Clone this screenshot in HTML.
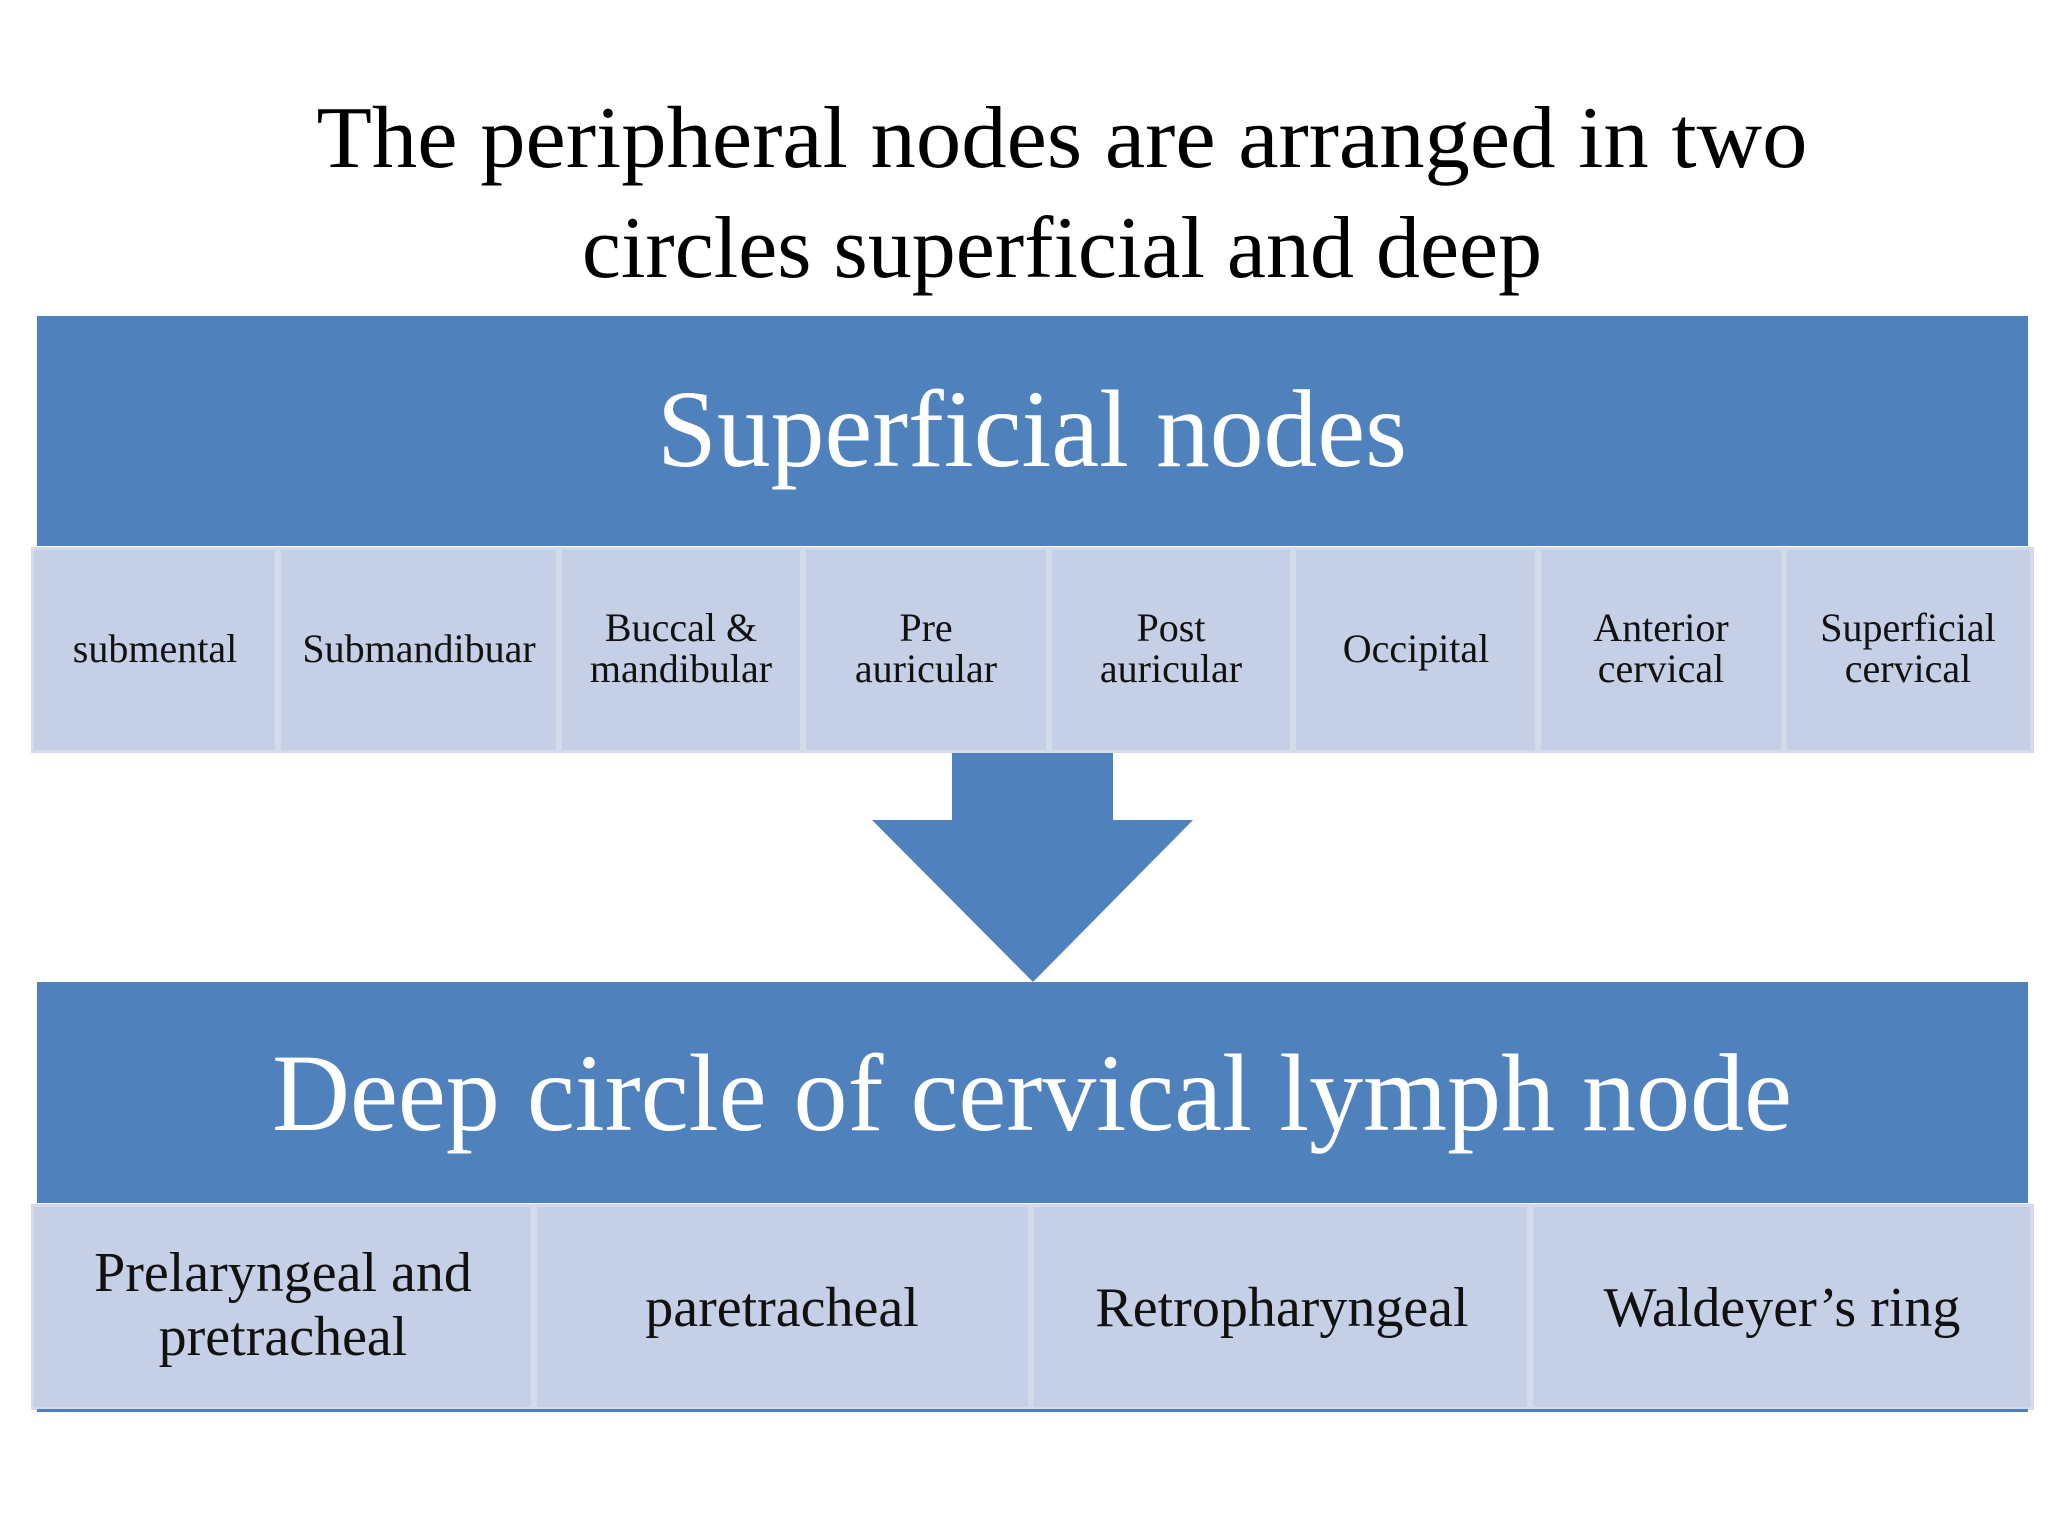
<!DOCTYPE html>
<html><head><meta charset="utf-8"><style>html,body{margin:0;padding:0;background:#fff}svg{display:block}</style></head>
<body>
<svg width="2048" height="1536" viewBox="0 0 2048 1536" xmlns="http://www.w3.org/2000/svg" font-family="Liberation Serif, serif">
<rect width="2048" height="1536" fill="#fff"/>
<text x="1062" y="167" font-size="88" text-anchor="middle" fill="#000" textLength="1491" lengthAdjust="spacingAndGlyphs">The peripheral nodes are arranged in two</text>
<text x="1062" y="277" font-size="88" text-anchor="middle" fill="#000">circles superficial and deep</text>

<rect x="37" y="316" width="1991" height="230" fill="#4f81bd"/>
<text x="1032" y="466" font-size="110" text-anchor="middle" fill="#fff" textLength="750" lengthAdjust="spacingAndGlyphs">Superficial nodes</text>

<rect x="31" y="547" width="2003" height="206" fill="#d3dbeb"/>
<g fill="#c5d0e6">
<rect x="34" y="550" width="241" height="200"/>
<rect x="281" y="550" width="275" height="200"/>
<rect x="562" y="550" width="238" height="200"/>
<rect x="806" y="550" width="240" height="200"/>
<rect x="1052" y="550" width="238" height="200"/>
<rect x="1296" y="550" width="239" height="200"/>
<rect x="1541" y="550" width="240" height="200"/>
<rect x="1787" y="550" width="243" height="200"/>
</g>
<g font-size="40" text-anchor="middle" fill="#111">
<text x="155" y="662">submental</text>
<text x="419" y="662">Submandibuar</text>
<text x="681" y="641">Buccal &amp;</text><text x="681" y="682">mandibular</text>
<text x="926" y="641">Pre</text><text x="926" y="682">auricular</text>
<text x="1171" y="641">Post</text><text x="1171" y="682">auricular</text>
<text x="1416" y="662">Occipital</text>
<text x="1661" y="641">Anterior</text><text x="1661" y="682">cervical</text>
<text x="1908" y="641">Superficial</text><text x="1908" y="682">cervical</text>
</g>

<polygon points="952,753 1113,753 1113,820 1193,820 1033,982 872,820 952,820" fill="#4f81bd"/>

<rect x="37" y="982" width="1991" height="221" fill="#4f81bd"/>
<text x="1032" y="1130" font-size="110" text-anchor="middle" fill="#fff" textLength="1520" lengthAdjust="spacingAndGlyphs">Deep circle of cervical lymph node</text>

<rect x="31" y="1204" width="2003" height="206" fill="#d3dbeb"/>
<g fill="#c5d0e6">
<rect x="34" y="1207" width="497" height="200"/>
<rect x="537" y="1207" width="491" height="200"/>
<rect x="1034" y="1207" width="493" height="200"/>
<rect x="1533" y="1207" width="497" height="200"/>
</g>
<rect x="37" y="1409" width="1991" height="3" fill="#4f81bd"/>
<g font-size="56" text-anchor="middle" fill="#111">
<text x="283" y="1291">Prelaryngeal and</text><text x="283" y="1355">pretracheal</text>
<text x="782" y="1326">paretracheal</text>
<text x="1282" y="1326">Retropharyngeal</text>
<text x="1782" y="1326">Waldeyer’s ring</text>
</g>
</svg>
</body></html>
